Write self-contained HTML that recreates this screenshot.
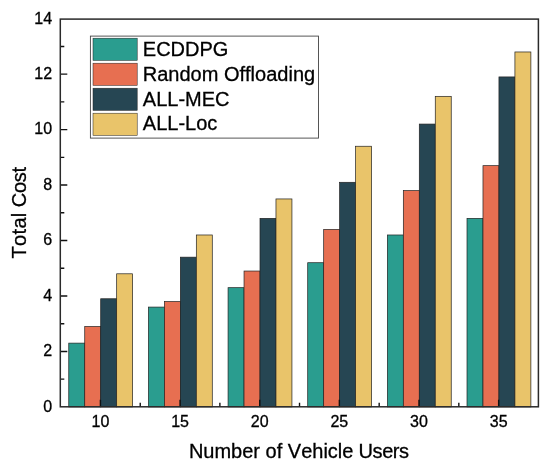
<!DOCTYPE html>
<html><head><meta charset="utf-8"><title>Total Cost</title>
<style>html,body{margin:0;padding:0;background:#fff}svg{display:block}text{font-kerning:none;font-family:"Liberation Sans",Arial,sans-serif;fill:#000;stroke:#000;stroke-width:.3px}</style></head><body>
<svg width="550" height="466" viewBox="0 0 550 466">
<rect width="550" height="466" fill="#fff"/>
<rect x="68.76" y="343.12" width="15.97" height="63.78" fill="#2A9D8F" stroke="#222" stroke-width="0.7"/>
<rect x="84.73" y="326.49" width="15.97" height="80.41" fill="#E76F51" stroke="#222" stroke-width="0.7"/>
<rect x="100.70" y="298.76" width="15.97" height="108.14" fill="#264653" stroke="#222" stroke-width="0.7"/>
<rect x="116.67" y="273.80" width="15.97" height="133.10" fill="#E9C46A" stroke="#222" stroke-width="0.7"/>
<rect x="148.41" y="307.08" width="15.97" height="99.82" fill="#2A9D8F" stroke="#222" stroke-width="0.7"/>
<rect x="164.38" y="301.53" width="15.97" height="105.37" fill="#E76F51" stroke="#222" stroke-width="0.7"/>
<rect x="180.35" y="257.17" width="15.97" height="149.73" fill="#264653" stroke="#222" stroke-width="0.7"/>
<rect x="196.32" y="234.98" width="15.97" height="171.92" fill="#E9C46A" stroke="#222" stroke-width="0.7"/>
<rect x="228.06" y="287.67" width="15.97" height="119.23" fill="#2A9D8F" stroke="#222" stroke-width="0.7"/>
<rect x="244.03" y="271.03" width="15.97" height="135.87" fill="#E76F51" stroke="#222" stroke-width="0.7"/>
<rect x="260.00" y="218.35" width="15.97" height="188.55" fill="#264653" stroke="#222" stroke-width="0.7"/>
<rect x="275.97" y="198.94" width="15.97" height="207.96" fill="#E9C46A" stroke="#222" stroke-width="0.7"/>
<rect x="307.71" y="262.71" width="15.97" height="144.19" fill="#2A9D8F" stroke="#222" stroke-width="0.7"/>
<rect x="323.68" y="229.44" width="15.97" height="177.46" fill="#E76F51" stroke="#222" stroke-width="0.7"/>
<rect x="339.65" y="182.30" width="15.97" height="224.60" fill="#264653" stroke="#222" stroke-width="0.7"/>
<rect x="355.62" y="146.25" width="15.97" height="260.65" fill="#E9C46A" stroke="#222" stroke-width="0.7"/>
<rect x="387.36" y="234.98" width="15.97" height="171.92" fill="#2A9D8F" stroke="#222" stroke-width="0.7"/>
<rect x="403.33" y="190.62" width="15.97" height="216.28" fill="#E76F51" stroke="#222" stroke-width="0.7"/>
<rect x="419.30" y="124.07" width="15.97" height="282.83" fill="#264653" stroke="#222" stroke-width="0.7"/>
<rect x="435.27" y="96.34" width="15.97" height="310.56" fill="#E9C46A" stroke="#222" stroke-width="0.7"/>
<rect x="467.01" y="218.35" width="15.97" height="188.55" fill="#2A9D8F" stroke="#222" stroke-width="0.7"/>
<rect x="482.98" y="165.66" width="15.97" height="241.24" fill="#E76F51" stroke="#222" stroke-width="0.7"/>
<rect x="498.95" y="76.93" width="15.97" height="329.97" fill="#264653" stroke="#222" stroke-width="0.7"/>
<rect x="514.92" y="51.97" width="15.97" height="354.93" fill="#E9C46A" stroke="#222" stroke-width="0.7"/>
<path d="M60.3 379.17h4M60.3 351.44h7M60.3 323.71h4M60.3 295.99h7M60.3 268.26h4M60.3 240.53h7M60.3 212.80h4M60.3 185.07h7M60.3 157.34h4M60.3 129.61h7M60.3 101.89h4M60.3 74.16h7M60.3 46.43h4M100.40 406.8v-7M140.23 406.8v-4M180.05 406.8v-7M219.88 406.8v-4M259.70 406.8v-7M299.52 406.8v-4M339.35 406.8v-7M379.18 406.8v-4M419.00 406.8v-7M458.82 406.8v-4M498.65 406.8v-7" stroke="#111" stroke-width="1.4" fill="none"/>
<rect x="60.3" y="19.1" width="478.10" height="387.70" fill="none" stroke="#2a2a2a" stroke-width="1.5"/>
<text x="52.1" y="411.70" font-size="16" text-anchor="end">0</text>
<text x="52.1" y="356.24" font-size="16" text-anchor="end">2</text>
<text x="52.1" y="300.79" font-size="16" text-anchor="end">4</text>
<text x="52.1" y="245.33" font-size="16" text-anchor="end">6</text>
<text x="52.1" y="189.87" font-size="16" text-anchor="end">8</text>
<text x="52.1" y="134.41" font-size="16" text-anchor="end">10</text>
<text x="52.1" y="78.96" font-size="16" text-anchor="end">12</text>
<text x="52.1" y="23.50" font-size="16" text-anchor="end">14</text>
<text x="100.40" y="426.8" font-size="16" text-anchor="middle">10</text>
<text x="180.05" y="426.8" font-size="16" text-anchor="middle">15</text>
<text x="259.70" y="426.8" font-size="16" text-anchor="middle">20</text>
<text x="339.35" y="426.8" font-size="16" text-anchor="middle">25</text>
<text x="419.00" y="426.8" font-size="16" text-anchor="middle">30</text>
<text x="498.65" y="426.8" font-size="16" text-anchor="middle">35</text>
<text x="188.9" y="457.8" font-size="20">Number of Vehicle <tspan x="358.6" textLength="50.4">Users</tspan></text>
<text transform="translate(25.8,258.4) rotate(-90)" font-size="20"><tspan x="0" textLength="45.7">Total</tspan> <tspan x="51.2" textLength="40.2">Cost</tspan></text>
<rect x="90.4" y="36.1" width="228.1" height="102" fill="#fff" stroke="#444" stroke-width="0.9"/>
<rect x="93" y="38.20" width="44.2" height="22.2" fill="#2A9D8F" stroke="#222" stroke-width="0.5"/>
<text x="142.8" y="56.00" font-size="20">ECDDPG</text>
<rect x="93" y="63.20" width="44.2" height="22.2" fill="#E76F51" stroke="#222" stroke-width="0.5"/>
<text x="142.8" y="80.77" font-size="20">Random Offloading</text>
<rect x="93" y="88.20" width="44.2" height="22.2" fill="#264653" stroke="#222" stroke-width="0.5"/>
<text x="142.8" y="105.54" font-size="20">ALL-MEC</text>
<rect x="93" y="113.20" width="44.2" height="22.2" fill="#E9C46A" stroke="#222" stroke-width="0.5"/>
<text x="142.8" y="130.31" font-size="20">ALL-Loc</text>
</svg></body></html>
